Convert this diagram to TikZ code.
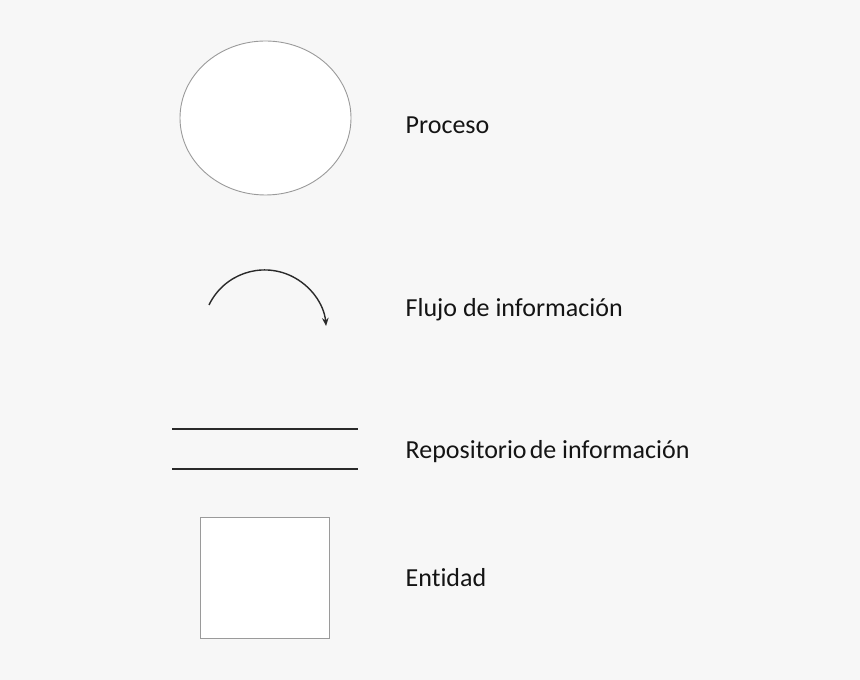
\documentclass[tikz,border=0pt]{standalone}
\usepackage{fontspec}
\setmainfont{Carlito}[Ligatures={NoCommon}]
\usetikzlibrary{shapes.geometric,arrows.meta}
\definecolor{bg}{HTML}{F7F7F7}
\definecolor{shapegray}{HTML}{9A9A9A}
\definecolor{linedark}{HTML}{2A2A2A}
\definecolor{txt}{HTML}{141414}
\tikzset{
  lbl/.style={anchor=base west, inner sep=0pt, text=txt, font=\fontsize{26}{31}\selectfont},
  proc/.style={ellipse, draw=shapegray, fill=white, line width=0.9pt, inner sep=0pt},
  ent/.style={rectangle, draw=shapegray, fill=white, line width=1pt, inner sep=0pt},
  repo/.style={draw=linedark, line width=1.6pt},
  flow/.style={draw=linedark, line width=1.4pt, -{Stealth[length=8pt,width=6.5pt]}}
}
\begin{document}
\begin{tikzpicture}[x=1pt,y=1pt]
\fill[bg] (0,0) rectangle (860,680);
\useasboundingbox (0,0) rectangle (860,680);
% Proceso
\node[proc, minimum width=171pt, minimum height=154pt] (proc) at (265.5,562) {};
\node[lbl] (lproc) at (405.5,546.7) {Proceso};
% Flujo
\coordinate (fstart) at (209,375);
\draw[flow] (fstart) arc[start angle=154.4, end angle=5.3, radius=61.7] coordinate (fend);
\node[lbl] (lflujo) at (405.5,363.3) {Flujo de información};
% Repositorio
\coordinate (r1a) at (172,251);
\coordinate (r1b) at (358,251);
\coordinate (r2a) at (172,211);
\coordinate (r2b) at (358,211);
\draw[repo] (r1a) -- (r1b);
\draw[repo] (r2a) -- (r2b);
\node[lbl] (lrepo) at (405.5,221.7) {Repositorio\hspace{0.12em}de información};
% Entidad
\node[ent, minimum width=129pt, minimum height=121pt] (ent) at (264.5,101.5) {};
\node[lbl] (lent) at (405.5,93.7) {Entidad};
\end{tikzpicture}
\end{document}
